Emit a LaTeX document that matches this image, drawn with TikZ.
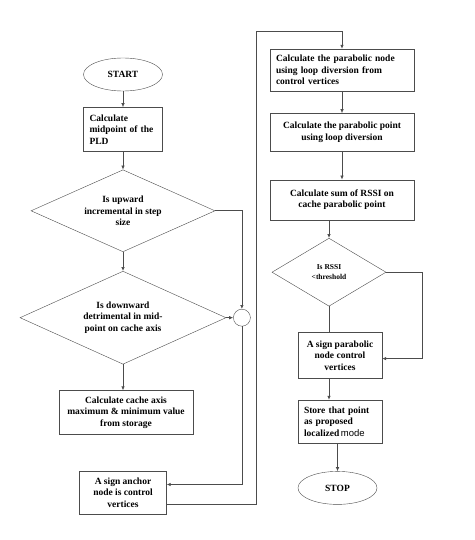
\documentclass[tikz,border=0pt]{standalone}
\usepackage{fontspec}
\setmainfont{Liberation Serif}
\usetikzlibrary{positioning,arrows.meta,shapes.geometric}

\begin{document}
\begin{tikzpicture}[x=1pt, y=-1pt,
  every node/.style={font=\bfseries\fontsize{9.5}{11.5}\selectfont},
  proc/.style={draw=black!70, rectangle, inner sep=0pt, align=center},
  procl/.style={draw=black!70, rectangle, inner xsep=6pt, inner ysep=0pt, align=left},
  term/.style={draw=black!70, ellipse, inner sep=0pt, minimum width=79pt, minimum height=33pt},
  decide/.style={draw=black!70, diamond, aspect=2.2, inner sep=0pt, align=center},
  arr/.style={-{Latex[length=4pt,width=3.5pt]}, draw=black!70, line width=0.7pt},
  ln/.style={draw=black!70, line width=0.7pt}]
\useasboundingbox (0,0) rectangle (474,540);
% left column
\node[term] (start) at (123,74.5) {START};
\node[procl, below=16pt of start, minimum height=44pt, text width=67pt] (midpt) {Calculate\\midpoint of the\\PLD};
\node[decide, below=18pt of midpt, minimum width=184pt, minimum height=82pt] (upward) {Is upward\\incremental in step\\size};
\node[decide, below=19pt of upward, minimum width=206pt, minimum height=93pt] (downward) {Is downward\\detrimental in mid-\\point on cache axis};
\node[proc, below=26pt of downward, xshift=3pt, minimum width=134pt, minimum height=44pt] (cachemax) {Calculate cache axis\\maximum \& minimum value\\from storage};
\node[proc, below=36pt of cachemax, xshift=-3pt, minimum width=87pt, minimum height=43pt] (anchor) {A sign anchor\\node is control\\vertices};
\node[draw=black!70, circle, minimum size=17pt, inner sep=0pt, right=7pt of downward] (join) {};
% right column
\node[procl, minimum width=144pt, minimum height=42pt, text width=132pt] (parnode) at (342,70) {Calculate the parabolic node\\using loop diversion from\\control vertices};
\node[proc, below=22pt of parnode, minimum width=144pt, minimum height=38pt] (parpoint) {Calculate the parabolic point\\using loop diversion};
\node[proc, below=28pt of parpoint, minimum width=144pt, minimum height=40pt] (rssisum) {Calculate sum of RSSI on\\cache parabolic point};
\node[decide, below=18pt of rssisum, xshift=-13pt, minimum width=114pt, minimum height=68pt, aspect=1.7,
      font=\bfseries\fontsize{7.5}{10}\selectfont] (rssi) {Is RSSI\\<threshold};
\node[proc, below=26pt of rssi, xshift=11pt, minimum width=84pt, minimum height=46pt] (signpar) {A sign parabolic\\node control\\vertices};
\node[procl, below=21pt of signpar, minimum width=84pt, minimum height=43pt, text width=72pt] (store) {Store that point\\as proposed\\localized\,{\fontspec{Liberation Sans}\mdseries mode}};
\node[term, below=28pt of store, xshift=-2.5pt] (stop) {STOP};
% connectors
\draw[arr] (start) -- (midpt);
\draw[arr] (midpt) -- (upward);
\draw[arr] (upward) -- (downward);
\draw[arr] (downward) -- (downward.south |- cachemax.north);
\draw[arr] (downward) -- (join);
\draw[arr] (upward.east) -| (join.north);
\draw[arr] (join.south) |- ([yshift=8pt]anchor.east);
\coordinate (loopup) at (256,31);
\draw[arr] ([yshift=-12pt]anchor.east) -| (loopup) -| (parnode.north);
\draw[arr] (parnode) -- (parpoint);
\draw[arr] (parpoint) -- (rssisum);
\draw[arr] (rssisum.south -| rssi.north) -- (rssi.north);
\draw[ln] (rssi.south) -- (rssi.south |- signpar.north);
\draw[arr] (rssi.east) -- ([xshift=36pt]rssi.east) |- ([yshift=-3pt]signpar.east);
\draw[arr] (signpar.south -| rssi.south) -- (store.north -| rssi.south);
\draw[arr] (store.south -| stop.north) -- (stop.north);
\end{tikzpicture}
\end{document}
